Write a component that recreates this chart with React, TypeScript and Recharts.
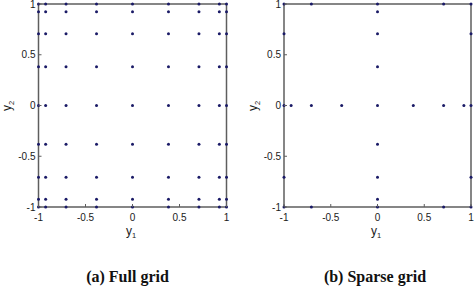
import React from 'react';
import { ScatterChart, Scatter, XAxis, YAxis } from 'recharts';

// Clenshaw-Curtis nodes (level 4)
const nodes = [-1, -0.9239, -0.7071, -0.3827, 0, 0.3827, 0.7071, 0.9239, 1];

// Full tensor grid
const fullGrid = nodes.flatMap((x) => nodes.map((y) => ({ x, y })));

// Sparse grid: horizontal row (y = 0), vertical column (x = 0) and edge points
const sparseRowX = [-1, -0.9239, -0.7071, -0.3827, 0, 0.3827, 0.7071, 0.9239, 1];
const sparseColY = [-1, -0.9239, -0.7071, -0.3827, 0.3827, 0.7071, 0.9239, 1];
const sparseEdgePoints: [number, number][] = [
  [-1, -1], [-1, 1], [1, -1], [1, 1],
  [-1, -0.7071], [-1, 0.7071], [1, -0.7071], [1, 0.7071],
  [-0.7071, -1], [-0.7071, 1], [0.7071, -1], [0.7071, 1],
];
const sparseGrid = [
  ...sparseRowX.map((x) => ({ x, y: 0 })),
  ...sparseColY.map((y) => ({ x: 0, y })),
  ...sparseEdgePoints.map(([x, y]) => ({ x, y })),
];

const tickValues = [-1, -0.5, 0, 0.5, 1];
const tickLabels = ['-1', '-0.5', '0', '0.5', '1'];
const captions = ['(a) Full grid', '(b) Sparse grid'];

const FRAME = '#5e5e5e';
const DOT = '#1a1a66';
const TXT = '#1a1a1a';
const SANS = '"Liberation Sans", Arial, sans-serif';
const SERIF = '"Liberation Serif", "Times New Roman", serif';

const labelOf = (v: number) => tickLabels[tickValues.indexOf(v)] ?? String(v);

const BottomTick = (p: any) => (
  <g>
    <line x1={p.x} x2={p.x} y1={p.y} y2={p.y - 3} stroke={FRAME} strokeWidth={1} />
    <text x={p.x} y={p.y + 14} textAnchor="middle" fontSize={10} fontFamily={SANS} fill={TXT}>
      {labelOf(p.payload.value)}
    </text>
  </g>
);
const TopTick = (p: any) => (
  <line x1={p.x} x2={p.x} y1={p.y} y2={p.y + 3} stroke={FRAME} strokeWidth={1} />
);
const LeftTick = (p: any) => (
  <g>
    <line x1={p.x} x2={p.x + 3} y1={p.y} y2={p.y} stroke={FRAME} strokeWidth={1} />
    <text x={p.x - 3} y={p.y + 3.5} textAnchor="end" fontSize={10} fontFamily={SANS} fill={TXT}>
      {labelOf(p.payload.value)}
    </text>
  </g>
);
const RightTick = (p: any) => (
  <line x1={p.x} x2={p.x - 3} y1={p.y} y2={p.y} stroke={FRAME} strokeWidth={1} />
);

const Dot = (p: any) => <circle cx={p.cx} cy={p.cy} r={1.5} fill={DOT} />;

const axisLine = { stroke: FRAME, strokeWidth: 1.5 };

function GridPlot({ data, yWidth, rightMargin }: { data: { x: number; y: number }[]; yWidth: number; rightMargin: number }) {
  return (
    <ScatterChart width={237} height={245} margin={{ top: 3, right: rightMargin, bottom: 0, left: 0 }}>
      <XAxis
        xAxisId="b"
        dataKey="x"
        type="number"
        domain={[-1, 1]}
        ticks={tickValues}
        orientation="bottom"
        height={38}
        tickSize={0}
        tickMargin={0}
        tickLine={false}
        axisLine={axisLine}
        tick={BottomTick}
        interval={0}
      />
      <XAxis
        xAxisId="t"
        dataKey="x"
        type="number"
        domain={[-1, 1]}
        ticks={tickValues}
        orientation="top"
        height={1}
        tickSize={0}
        tickMargin={0}
        tickLine={false}
        axisLine={axisLine}
        tick={TopTick}
        interval={0}
      />
      <YAxis
        yAxisId="l"
        dataKey="y"
        type="number"
        domain={[-1, 1]}
        ticks={tickValues}
        orientation="left"
        width={yWidth}
        tickSize={0}
        tickMargin={0}
        tickLine={false}
        axisLine={axisLine}
        tick={LeftTick}
        interval={0}
      />
      <YAxis
        yAxisId="r"
        dataKey="y"
        type="number"
        domain={[-1, 1]}
        ticks={tickValues}
        orientation="right"
        width={1}
        tickSize={0}
        tickMargin={0}
        tickLine={false}
        axisLine={axisLine}
        tick={RightTick}
        interval={0}
      />
      <Scatter data={data} xAxisId="b" yAxisId="l" fill={DOT} shape={Dot} isAnimationActive={false} />
    </ScatterChart>
  );
}

const SubLabel = ({ x, y, base, sub, rotate }: { x: number; y: number; base: string; sub: string; rotate?: boolean }) => (
  <text
    x={x}
    y={y}
    textAnchor="middle"
    fontFamily={SANS}
    fontSize={12}
    fill={TXT}
    transform={rotate ? `rotate(-90, ${x}, ${y})` : undefined}
  >
    <tspan>{base}</tspan>
    <tspan fontSize={7.5} dy={3}>{sub}</tspan>
  </text>
);

export default function App() {
  return (
    <div style={{ position: 'absolute', left: 0, top: 0, width: 474, height: 287, background: '#fff', overflow: 'hidden' }}>
      <div style={{ position: 'absolute', left: 0, top: 0 }}>
        <GridPlot data={fullGrid} yWidth={38.5} rightMargin={9.5} />
      </div>
      <div style={{ position: 'absolute', left: 237, top: 0 }}>
        <GridPlot data={sparseGrid} yWidth={47} rightMargin={2} />
      </div>
      <svg width={474} height={287} style={{ position: 'absolute', left: 0, top: 0, pointerEvents: 'none' }}>
        <SubLabel x={131} y={235} base="y" sub="1" />
        <SubLabel x={376} y={235} base="y" sub="1" />
        <SubLabel x={11} y={106} base="y" sub="2" rotate />
        <SubLabel x={257} y={106} base="y" sub="2" rotate />
        <text x={127.5} y={282} textAnchor="middle" fontFamily={SERIF} fontWeight="bold" fontSize={16} fill="#111">
          {captions[0]}
        </text>
        <text x={375} y={282} textAnchor="middle" fontFamily={SERIF} fontWeight="bold" fontSize={16} fill="#111">
          {captions[1]}
        </text>
      </svg>
    </div>
  );
}
